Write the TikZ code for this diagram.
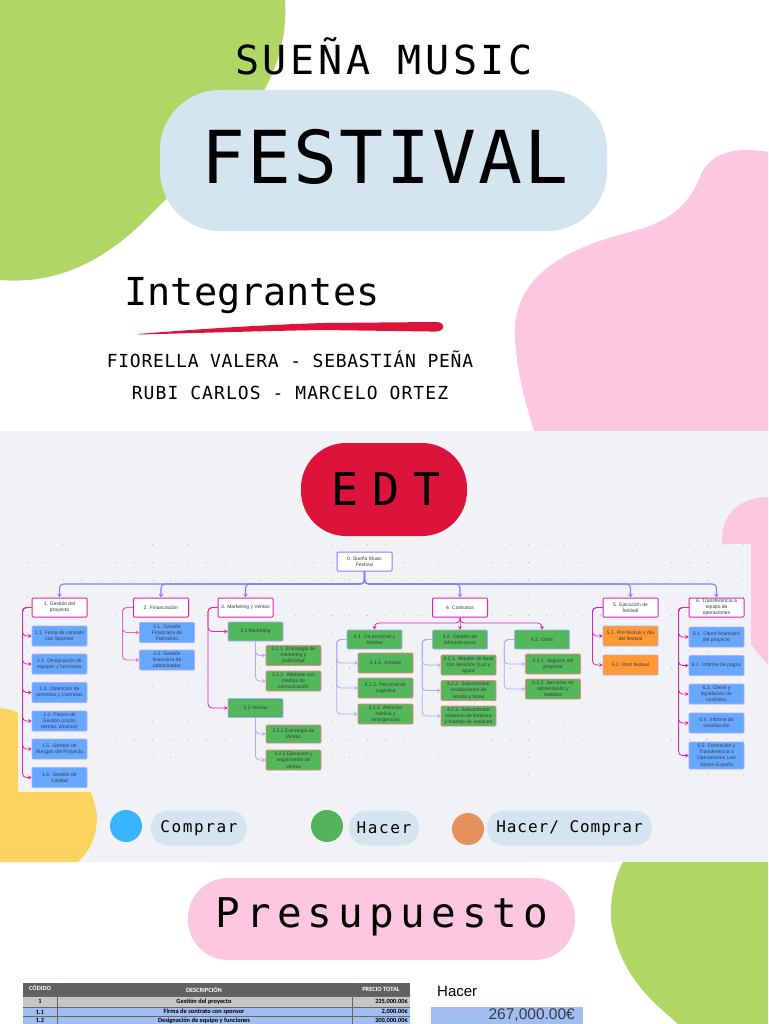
\documentclass[tikz,border=0pt]{standalone}
\usepackage{fontspec}
\setmainfont{Liberation Sans}
\newfontfamily\hand{DejaVu Sans Mono}
\newfontfamily\tabfont{Carlito}
\definecolor{leaf}{HTML}{B0D766}
\definecolor{rosa}{HTML}{FDC7E0}
\definecolor{amber}{HTML}{FDD35F}
\definecolor{sky}{HTML}{D5E5F0}
\definecolor{crim}{HTML}{DC143C}
\definecolor{band}{HTML}{F1F2F5}
\definecolor{busc}{HTML}{7F7FFF}
\definecolor{softc}{HTML}{ABABFF}
\definecolor{magc}{HTML}{E61FB4}
\definecolor{pinkc}{HTML}{EC62BE}
\definecolor{fillb}{HTML}{66A8FF}
\definecolor{fillg}{HTML}{52B85A}
\definecolor{fillo}{HTML}{FF9933}
\definecolor{saly}{HTML}{FF7F7F}
\definecolor{ink}{HTML}{3A3A44}
\definecolor{rowb}{HTML}{A0BEF0}
\definecolor{legb}{HTML}{38B4FF}
\definecolor{legg}{HTML}{54B45C}
\definecolor{lego}{HTML}{E6905C}
\usetikzlibrary{arrows.meta}
\tikzset{
  x=1pt,y=-1pt,
  wbs/.style={minimum width=#1,align=center,inner sep=0pt,rounded corners=1pt,font=\fontsize{5}{6.2}\selectfont,text=ink},
  rootbox/.style={wbs=55pt,minimum height=19pt,draw=busc,line width=1pt,fill=white},
  headbox/.style={wbs=55pt,minimum height=19pt,draw=magc,line width=1pt,fill=white},
  buybox/.style={wbs=55pt,minimum height=20pt,draw=softc,line width=.6pt,fill=fillb},
  midbox/.style={wbs=55pt,minimum height=19pt,draw=softc,line width=.7pt,fill=fillg},
  makebox/.style={wbs=55pt,minimum height=20pt,draw=saly,line width=.7pt,fill=fillg},
  mixbox/.style={wbs=55pt,minimum height=20pt,draw=softc,line width=.7pt,fill=fillo},
  busline/.style={color=busc,line width=1.1pt,rounded corners=4pt,-{Stealth[length=3.5pt,width=4.5pt]}},
  softline/.style={color=softc,line width=.8pt,rounded corners=4pt,-{Stealth[length=3.5pt,width=4pt]}},
  magline/.style={color=magc,line width=.8pt,rounded corners=4pt,-{Stealth[length=3.5pt,width=4pt]}},
  pinkline/.style={color=pinkc,line width=.9pt,rounded corners=4pt,-{Stealth[length=3.5pt,width=4pt]}},
  tag/.style={fill=sky,rounded corners=17pt,minimum height=35pt,inner sep=0pt,font=\hand\addfontfeature{LetterSpace=10}\fontsize{16}{16}\selectfont},
  dotkey/.style={circle,minimum size=32pt,inner sep=0pt},
  cellt/.style={font=\tabfont\bfseries\fontsize{6.4}{6.6}\selectfont,inner sep=0pt}
}
\begin{document}
\begin{tikzpicture}
\useasboundingbox (0,0) rectangle (768,1024);
\fill[white] (0,0) rectangle (768,1024);
% --- blobs
\fill[leaf] (0,0) -- (285,0) .. controls (288,45) and (272,90) .. (235,130)
  .. controls (195,170) and (170,195) .. (140,225)
  .. controls (105,258) and (60,285) .. (0,280) -- cycle;
\fill[rosa] (768,152) .. controls (745,148) and (715,148) .. (702,172)
  .. controls (690,205) and (670,222) .. (630,232)
  .. controls (575,246) and (520,270) .. (515,325)
  .. controls (514,365) and (525,400) .. (534,431) -- (768,431) -- cycle;
% --- grey band
\fill[band] (0,431) rectangle (768,862);
\fill[rosa] (768,497) .. controls (745,497) and (722,510) .. (722,540)
  -- (722,600) .. controls (735,625) and (755,650) .. (768,665) -- cycle;
\fill[amber] (0,708) .. controls (40,712) and (88,760) .. (97,815)
  .. controls (97,840) and (88,852) .. (78,862) -- (0,862) -- cycle;
\fill[band] (18,544) rectangle (751,792);
\foreach \ix in {0,...,40}{\foreach \iy in {0,...,13}{
  \fill[black!40] (27.3+17.9*\ix,544.7+17.7*\iy) circle (.4pt);}}
% --- lower green blob
\fill[leaf] (623,862) .. controls (612,880) and (608,915) .. (613,930)
  .. controls (620,965) and (640,990) .. (660,1008)
  -- (678,1024) -- (768,1024) -- (768,862) -- cycle;
% --- pills
\node[name=pfest,fill=sky,rounded corners=60pt,minimum width=447pt,minimum height=141pt,inner sep=0pt] at (383.5,160.5) {};
\node[name=pedt,fill=crim,rounded corners=45pt,minimum width=166pt,minimum height=93pt,inner sep=0pt] at (384,489.5) {};
\node[name=ppres,fill=rosa,rounded corners=40pt,minimum width=387pt,minimum height=82pt,inner sep=0pt] at (381.5,919) {};
% --- titles
\node[name=tsuena,font=\hand\addfontfeature{LetterSpace=9}\fontsize{40}{40}\selectfont] at (384,56) {SUEÑA MUSIC};
\node[name=tfest,font=\hand\addfontfeature{LetterSpace=3}\fontsize{73}{73}\selectfont] at (385,157) {FESTIVAL};
\node[name=tinte,font=\hand\fontsize{38.5}{38.5}\selectfont] at (252,296) {Integrantes};
\fill[crim] (138,334) .. controls (200,329) and (260,325) .. (323,323)
  -- (436,322) .. controls (442,322) and (444,325) .. (443,328)
  .. controls (442,331) and (438,332) .. (430,331.5)
  -- (323,330) .. controls (260,331) and (200,333) .. (138,334.5) -- cycle;
\node[name=tn1,font=\hand\addfontfeature{LetterSpace=4}\fontsize{18}{18}\selectfont] at (290,359) {FIORELLA VALERA - SEBASTIÁN PEÑA};
\node[name=tn2,font=\hand\addfontfeature{LetterSpace=6}\fontsize{18}{18}\selectfont] at (290,393) {RUBI CARLOS - MARCELO ORTEZ};
\node[name=tedt,font=\hand\addfontfeature{LetterSpace=30}\fontsize{45}{45}\selectfont] at (386,489) {EDT};
\node[name=tpres,font=\hand\addfontfeature{LetterSpace=15}\fontsize{41}{41}\selectfont] at (382,917) {Presupuesto};
% --- WBS nodes
\coordinate (bus) at (0,584);
\coordinate (bus4) at (0,623);
\node[rootbox,name=n0] at (364.5,561.5) {0. Sueña Music\\Festival};
\node[headbox,name=n1] at (59.5,607.5) {1. Gestión del\\proyecto};
\node[headbox,name=n2] at (161,607.5) {2. Financiación};
\node[headbox,name=n3] at (245.5,607.5) {3. Marketing y Ventas};
\node[headbox,name=n4] at (460,607.5) {4. Contratos};
\node[headbox,name=n5] at (630.5,607.5) {5. Ejecución de\\festival};
\node[headbox,name=n6] at (716.5,607.5) {6. Transferencia a\\equipo de\\operaciones};
\node[buybox,name=n11] at (59.5,636) {1.1. Firma de contrato\\con Sponsor};
\node[buybox,name=n12] at (59.5,664) {1.2. Designación de\\equipos y funciones};
\node[buybox,name=n13] at (59.5,692.5) {1.3. Obtención de\\permisos y Licencias};
\node[buybox,name=n14] at (59.5,721) {1.4. Planes de\\Gestión (costo,\\tiempo, alcance)};
\node[buybox,name=n15] at (59.5,749) {1.5. Gestión de\\Riesgos del Proyecto};
\node[buybox,name=n16] at (59.5,777.5) {1.6. Gestión de\\Calidad};
\node[buybox,name=n21] at (167,632.5) {2.1. Gestión\\Financiera de\\Patrocinio};
\node[buybox,name=n22] at (167,660) {2.2. Gestión\\financiera de\\patrocinador};
\node[midbox,name=n31] at (255.5,631.5) {3.1 Marketing};
\node[midbox,name=n32] at (255.5,708) {3.2 Ventas};
\node[makebox,name=n311] at (293.5,655.5) {3.1.1. Estrategia de\\marketing y\\publicidad};
\node[makebox,name=n312] at (293.5,681) {3.1.2. Alianzas con\\medios de\\comunicación};
\node[makebox,name=n321,minimum height=18pt] at (293.5,734) {3.2.1 Estrategia de\\Ventas};
\node[makebox,name=n322] at (293.5,760) {3.2.2 Ejecución y\\seguimiento de\\Ventas};
\node[midbox,name=n41] at (374.5,639.5) {4.1. De personal y\\Artistas};
\node[midbox,name=n42] at (460,639.5) {4.2. Gestión de\\infraestructura};
\node[midbox,name=n43] at (542,639.5) {4.3. Otros};
\node[makebox,name=n411] at (385.5,663) {4.1.1. Artistas};
\node[makebox,name=n412] at (385.5,688) {4.1.2. Personal de\\Logística};
\node[makebox,name=n413] at (385.5,714) {4.1.3. Atención\\médica y\\emergencias};
\node[makebox,name=n421] at (468.5,665) {4.2.1. Alquiler de local\\con servicios (Luz y\\agua)};
\node[makebox,name=n422] at (468.5,690.5) {4.2.2. Subcontratar\\instalaciones de\\sonido y luces};
\node[makebox,name=n423] at (468.5,716) {4.2.3. Subcontratar\\empresa de limpieza\\y manejo de residuos};
\node[makebox,name=n431] at (553,664) {4.3.1. Seguros del\\proyecto};
\node[makebox,name=n432] at (553,689) {4.3.2. Servicios de\\alimentación y\\bebidas};
\node[mixbox,name=n51] at (630.5,636) {5.1. Pre festival y día\\del festival};
\node[mixbox,name=n52] at (630.5,665) {5.2. Post festival};
\node[buybox,name=n61] at (716.5,637) {6.1. Cierre financiero\\del proyecto};
\node[buybox,name=n62] at (716.5,665.5) {6.2. Informe de pagos};
\node[buybox,name=n63] at (716.5,694) {6.3. Cierre y\\liquidación de\\contratos};
\node[buybox,name=n64] at (716.5,723) {6.4. Informe de\\satisfacción};
\node[buybox,name=n65,minimum height=27pt] at (716.5,755.5) {6.5. Formación y\\Transferencia a\\Operaciones Live\\Nation España};
% --- bus
\foreach \t in {n1,n2,n3,n4,n5,n6}{
  \draw[busline] (n0.south) -- (n0.south|-bus) -- (\t.north|-bus) -- (\t.north);}
% --- contracts row
\foreach \t in {n41,n42,n43}{
  \draw[magline] (n4.south) -- (n4.south|-bus4) -- (\t.north|-bus4) -- (\t.north);}
% --- side trunks
\foreach \t in {n11,n12,n13,n14,n15,n16}{\draw[magline] (n1.west) -- ++(-9,0) |- (\t.west);}
\foreach \t in {n21,n22}{\draw[pinkline] (n2.west) -- ++(-10.5,0) |- (\t.west);}
\foreach \t in {n31,n32}{\draw[magline] (n3.west) -- ++(-9.5,0) |- (\t.west);}
\foreach \t in {n311,n312}{\draw[softline] (n31.south) |- (\t.west);}
\foreach \t in {n321,n322}{\draw[softline] (n32.south) |- (\t.west);}
\foreach \t in {n411,n412,n413}{\draw[softline] (n41.west) -- ++(-10,0) |- (\t.west);}
\foreach \t in {n421,n422,n423}{\draw[softline] (n42.west) -- ++(-10,0) |- (\t.west);}
\foreach \t in {n431,n432}{\draw[softline] (n43.west) -- ++(-10,0) |- (\t.west);}
\foreach \t in {n51,n52}{\draw[magline] (n5.west) -- ++(-10,0) |- (\t.west);}
\foreach \t in {n61,n62,n63,n64,n65}{\draw[magline] (n6.west) -- ++(-10,0) |- (\t.west);}
% --- legend
\node[name=lc1,dotkey,fill=legb] at (126,826) {};
\node[name=lc2,dotkey,fill=legg] at (327,826) {};
\node[name=lc3,dotkey,fill=lego] at (468,829) {};
\node[name=lt1,tag,minimum width=96pt] at (199,828) {Comprar};
\node[name=lt2,tag,minimum width=70pt] at (384,828) {Hacer};
\node[name=lt3,tag,minimum width=165pt,font=\hand\addfontfeature{LetterSpace=6}\fontsize{16}{16}\selectfont] at (569.5,828) {Hacer/ Comprar};
% --- table
\begin{scope}
\clip (23,983) rectangle (410,1024);
\fill[black!62] (23,983) rectangle (410,996.5);
\fill[black!22] (23,996.5) rectangle (410,1007);
\fill[rowb] (23,1007) rectangle (410,1024);
\draw[black!60,line width=.3pt] (57,983) -- (57,1024) (352,983) -- (352,1024)
  (23,996.5) -- (410,996.5) (23,1007) -- (410,1007) (23,1016.5) -- (410,1016.5);
\node[cellt,text=white] at (40,988) {CÓDIDO};
\node[cellt,text=white] at (204,989.5) {DESCRIPCIÓN};
\node[cellt,text=white] at (381,989.5) {PRECIO TOTAL};
\node[cellt] at (40,1001.5) {1};
\node[cellt] at (204,1001.5) {Gestión del proyecto};
\node[cellt,anchor=east] at (408,1001.5) {235,000.00€};
\node[cellt] at (40,1012) {1.1};
\node[cellt] at (204,1012) {Firma de contrato con sponsor};
\node[cellt,anchor=east] at (408,1012) {2,000.00€};
\node[cellt] at (40,1020.5) {1.2};
\node[cellt] at (204,1020.5) {Designación de equipo y funciones};
\node[cellt,anchor=east] at (408,1020.5) {200,000.00€};
\end{scope}
\node[name=thacer,anchor=west,font=\fontsize{15}{15}\selectfont,inner sep=0pt] at (437,991) {Hacer};
\fill[rowb] (431,1006.5) rectangle (583,1024);
\node[name=tval,anchor=east,font=\fontsize{15.5}{16}\selectfont,inner sep=0pt,text=ink] at (575,1015.5) {267,000.00€};
\end{tikzpicture}
\end{document}
